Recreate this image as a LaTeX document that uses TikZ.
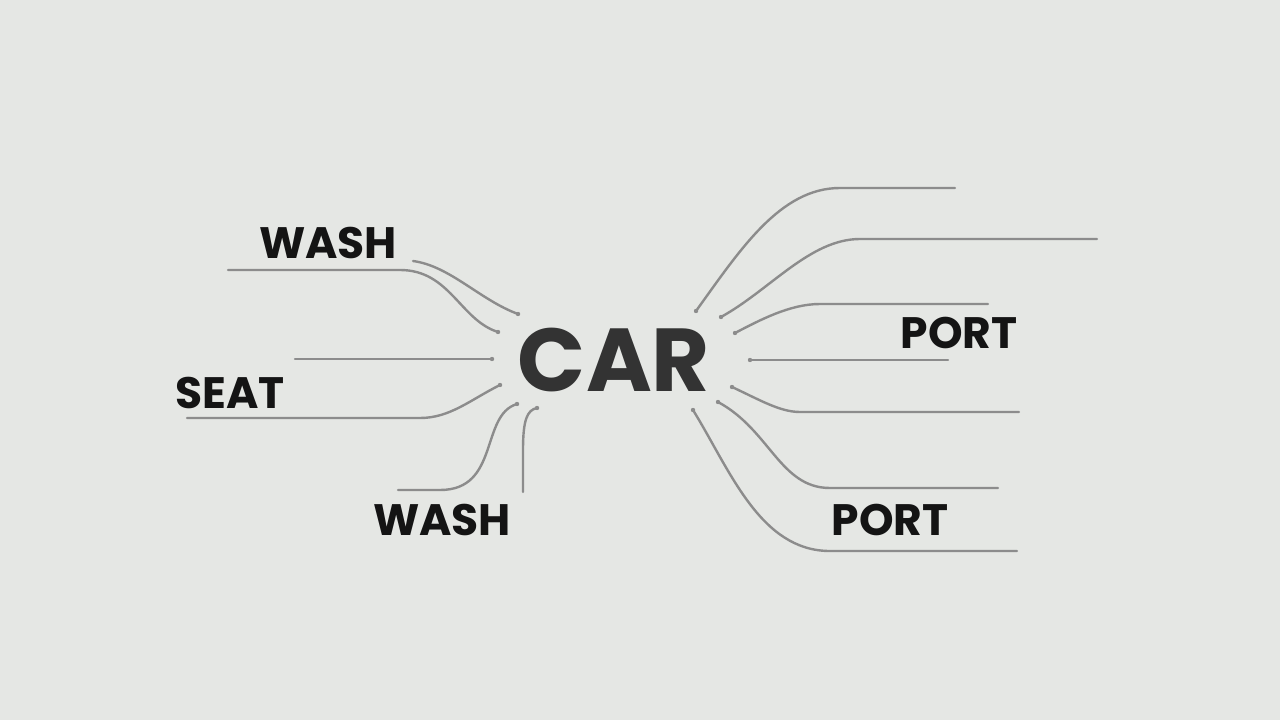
\documentclass[tikz,border=0pt]{standalone}
\usepackage{fontspec}
\setmainfont{Poppins}
\definecolor{bgc}{HTML}{E5E7E4}
\begin{document}
\begin{tikzpicture}[x=0.75pt,y=-0.75pt,
  lab/.style={font=\fontsize{33}{33}\selectfont\bfseries,text=black!92,inner sep=0},
  wire/.style={draw=black!45,line width=1.8pt,line cap=round},
  tipdot/.style={fill=black!45}]
\fill[bgc] (0,0) rectangle (1280,720);
\useasboundingbox (0,0) rectangle (1280,720);
\node[font=\fontsize{67}{67}\selectfont\bfseries,text=black!80,inner sep=0] (car) at (614,360) {CAR};
\node[lab] (w1) at (328,243) {WASH};
\node[lab] (seat) at (230,393) {SEAT};
\node[lab] (w2) at (442,520) {WASH};
\node[lab] (p1) at (959,333) {PORT};
\node[lab] (p2) at (890,520) {PORT};
\foreach \n/\x/\y in {a1/518/314,a2/498/332,a3/492/359,a4/500/385,a5/517/404,a6/537/408,
  b1/696/311,b2/721/317,b3/735/333,b4/750/360,b5/732/387,b6/718/402,b7/693/410}
  {\coordinate (\n) at (\x,\y); \fill[tipdot] (\n) circle (2.2);}
\coordinate (f1) at (413,261); \coordinate (f2) at (228,270); \coordinate (f3) at (295,359);
\coordinate (f4) at (187,418); \coordinate (f5) at (398,490); \coordinate (f6) at (523,492);
\coordinate (g1) at (955,188); \coordinate (g2) at (1097,239); \coordinate (g3) at (988,304);
\coordinate (g4) at (948,360); \coordinate (g5) at (1019,412); \coordinate (g6) at (998,488);
\coordinate (g7) at (1017,551);
\draw[wire] (f1) .. controls (450,266) and (480,300) .. (a1);
\draw[wire] (f2) -- (400,270) .. controls (450,270) and (460,320) .. (a2);
\draw[wire] (f3) -- (a3);
\draw[wire] (f4) -- (420,418) .. controls (450,418) and (470,400) .. (a4);
\draw[wire] (f5) -- (440,490) .. controls (500,490) and (480,415) .. (a5);
\draw[wire] (f6) -- (523,450) .. controls (523,420) and (527,410) .. (a6);
\draw[wire] (b1) .. controls (740,250) and (780,188) .. (840,188) -- (g1);
\draw[wire] (b2) .. controls (770,290) and (810,239) .. (860,239) -- (g2);
\draw[wire] (b3) .. controls (760,320) and (790,304) .. (820,304) -- (g3);
\draw[wire] (b4) -- (g4);
\draw[wire] (b5) .. controls (760,400) and (780,412) .. (800,412) -- (g5);
\draw[wire] (b6) .. controls (770,430) and (780,488) .. (830,488) -- (g6);
\draw[wire] (b7) .. controls (730,470) and (760,551) .. (830,551) -- (g7);
\end{tikzpicture}
\end{document}
